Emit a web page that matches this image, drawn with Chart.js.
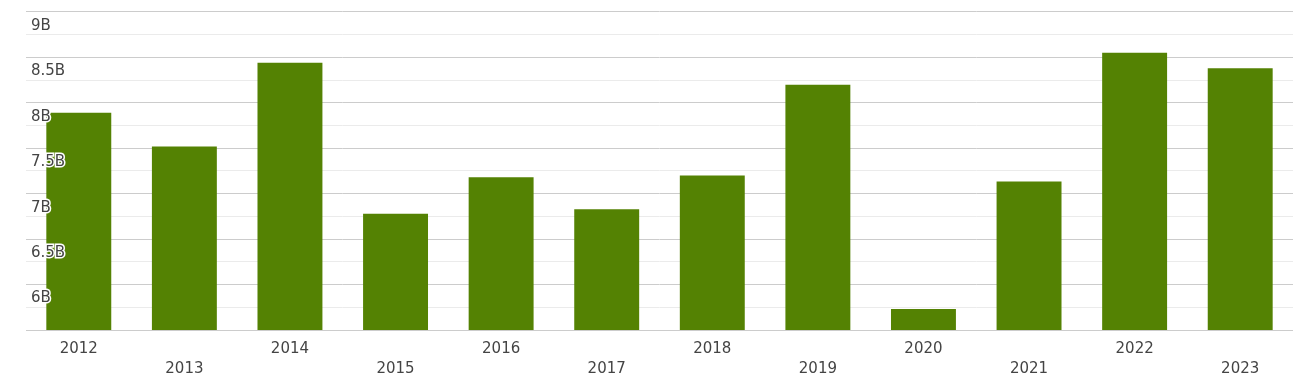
<!DOCTYPE html>
<html>
<head>
<meta charset="utf-8">
<script src="https://cdn.jsdelivr.net/npm/chart.js@4"></script>
<style>
  html, body { margin: 0; padding: 0; background: #fff; }
  #wrap { width: 1293px; height: 384px; }
</style>
</head>
<body>
<div id="wrap"><canvas id="chart"></canvas></div>
<script>
const years = ['2012', '2013', '2014', '2015', '2016', '2017', '2018', '2019', '2020', '2021', '2022', '2023'];
const values = [7.89e9, 7.52e9, 8.44e9, 6.78e9, 7.18e9, 6.83e9, 7.20e9, 8.20e9, 5.73e9, 7.135e9, 8.55e9, 8.38e9];
const yMin = 5.5e9;
const yMax = 9e9;

// alternate rows for the year labels
const labels = years.map((y, i) => i % 2 === 0 ? [y, ''] : ['', y]);

const fontFamily = "'DejaVu Sans', sans-serif";

new Chart(document.getElementById('chart'), {
  type: 'bar',
  data: {
    labels: labels,
    datasets: [{
      data: values,
      backgroundColor: '#548203',
      barPercentage: 0.615,
      categoryPercentage: 1
    }]
  },
  options: {
    responsive: true,
    maintainAspectRatio: false,
    animation: false,
    layout: { padding: { top: 8, left: 16, right: 0, bottom: 4 } },
    plugins: { legend: { display: false }, tooltip: { enabled: false } },
    scales: {
      x: {
        grid: { display: false },
        border: { color: '#ccc' },
        ticks: {
          color: '#444',
          padding: 1,
          maxRotation: 0,
          autoSkip: false,
          font: { family: fontFamily, size: 15, lineHeight: 1.333 }
        }
      },
      y: {
        min: yMin,
        max: yMax,
        border: { display: false },
        grid: {
          drawTicks: false,
          tickLength: 0,
          color: ctx => (Math.round(ctx.tick.value / 2.5e8) % 2 === 0 ? '#cccccc' : '#ebebeb')
        },
        ticks: { display: false, stepSize: 2.5e8 }
      },
      yLabels: {
        position: 'left',
        min: yMin,
        max: yMax,
        border: { display: false },
        grid: { display: false, drawTicks: false, tickLength: 0 },
        ticks: {
          z: 1,
          stepSize: 5e8,
          mirror: true,
          padding: 5,
          labelOffset: 14,
          color: '#444',
          textStrokeColor: '#fff',
          textStrokeWidth: 3,
          font: { family: fontFamily, size: 15, lineHeight: 0.93 },
          callback: v => v <= yMin ? '' : (v / 1e9) + 'B'
        }
      }
    }
  }
});
</script>
</body>
</html>
